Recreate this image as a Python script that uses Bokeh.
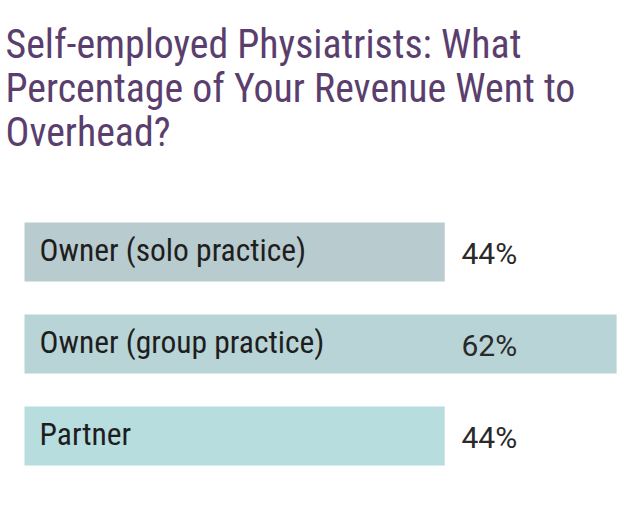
from bokeh.plotting import figure
from bokeh.models import Range1d, Label
from bokeh.core.properties import value
from bokeh.embed import file_html
from bokeh.resources import INLINE

categories = ["Owner (solo practice)", "Owner (group practice)", "Partner"]
percentages = [44, 62, 44]
value_labels = ["44%", "62%", "44%"]
bar_colors = ["#b8cbcf", "#b8d4d7", "#b8dddf"]
title_lines = ["Self-employed Physiatrists: What",
               "Percentage of Your Revenue Went to",
               "Overhead?"]

W, H = 632, 517
PX_PER_UNIT = 9.55
X0_PX = 24
ROW_PX = 92
ROW0_PX = 251.5

FONT = "Roboto Condensed, Liberation Sans Narrow, DejaVu Sans Condensed, Roboto, sans-serif"

x_start = -X0_PX / PX_PER_UNIT
x_end = x_start + W / PX_PER_UNIT
y_top = -ROW0_PX / ROW_PX
y_bottom = y_top + H / ROW_PX

p = figure(width=W, height=H, output_backend="svg", toolbar_location=None,
           x_range=Range1d(x_start, x_end), y_range=Range1d(y_bottom, y_top),
           min_border=0, outline_line_color=None, background_fill_color="white",
           border_fill_color="white")
p.axis.visible = False
p.grid.visible = False

ys = list(range(len(categories)))
p.hbar(y=ys, left=0, right=percentages, height=59 / ROW_PX, fill_color=bar_colors,
       line_color=None)

p.text(x=[0] * len(categories), y=ys, text=categories, x_offset=15,
       text_baseline="middle", text_align="left", text_font=value(FONT),
       text_font_size="31.5px", text_color="#1e1e1e", y_offset=-2)

label_x = (461 - X0_PX) / PX_PER_UNIT
p.text(x=[label_x] * len(categories), y=ys, text=value_labels,
       text_baseline="middle", text_align="left", text_font=value("Roboto"),
       text_font_size="30px", text_color="#2a2a2a", y_offset=1)

for i, line in enumerate(title_lines):
    p.add_layout(Label(x=5, y=H - 20 - 44 * i, x_units="screen", y_units="screen",
                       text=line, text_font=FONT, text_font_size="39.8px",
                       text_color="#5a3e6d", text_baseline="top", text_align="left"))

open("out.html", "w").write(file_html(p, INLINE))
